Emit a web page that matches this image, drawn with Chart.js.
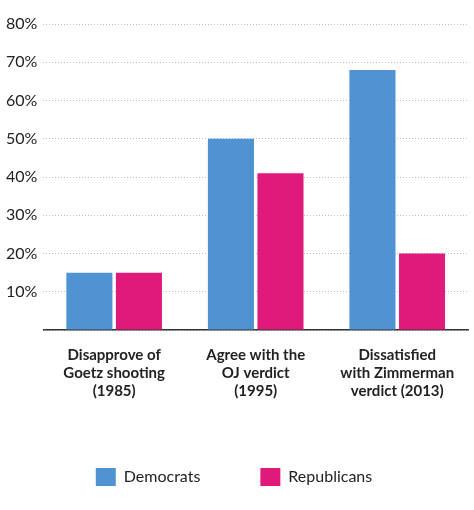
<!DOCTYPE html><html><head><script src="https://cdn.jsdelivr.net/npm/chart.js@4"></script>
<style>body{margin:0;background:#fff}#w{width:474px;height:510px}</style></head><body><div id="w"><canvas id="c"></canvas></div>
<script>
const categories=[["Disapprove of","Goetz shooting","(1985)"],["Agree with the","OJ verdict","(1995)"],["Dissatisfied","with Zimmerman","verdict (2013)"]];
const democrats=[15,50,68];
const republicans=[15,41,20];
new Chart(document.getElementById('c'),{type:'bar',
data:{labels:categories,datasets:[
{label:'Democrats',data:democrats,backgroundColor:'#4f93d2'},
{label:'Republicans',data:republicans,backgroundColor:'#df1a7a'}]},
options:{responsive:true,maintainAspectRatio:false,animation:false,
layout:{padding:{left:0,right:6,top:24,bottom:14}},
datasets:{bar:{categoryPercentage:0.7,barPercentage:0.93}},
plugins:{tooltip:{enabled:false},legend:{position:'bottom',labels:{boxWidth:20,boxHeight:18,padding:60,color:'#222',font:{family:'Lato',size:16}}}},
scales:{
x:{grid:{display:false},border:{color:'#333',width:1.5},ticks:{color:'#222',font:{family:'Lato',size:15,weight:'bold'},padding:8}},
y:{min:0,max:80,grid:{color:'#bbb',lineWidth:1,drawTicks:false},
border:{display:false,dash:[1,2]},
ticks:{stepSize:10,padding:6,color:'#222',font:{family:'Lato',size:16},callback:v=>v===0?'':v+'%'}}}}});
</script></body></html>
